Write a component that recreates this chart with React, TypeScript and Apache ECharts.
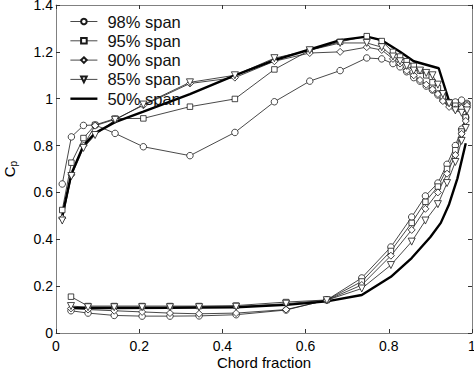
import React, { useEffect, useRef } from "react";
import * as echarts from "echarts";

const FONT = "'Liberation Sans', Arial, Helvetica, sans-serif";

const seriesNames = ["98% span", "95% span", "90% span", "85% span", "50% span"];

// Upper surface stations (marker series)
const upperX = [0.015, 0.037, 0.066, 0.094, 0.142, 0.21, 0.322, 0.43, 0.525, 0.61, 0.683, 0.747, 0.783, 0.81, 0.827, 0.843, 0.86, 0.875, 0.89, 0.905, 0.918, 0.93, 0.945, 0.96, 0.975, 0.988];
const upper98 = [0.636, 0.837, 0.886, 0.888, 0.852, 0.795, 0.757, 0.856, 0.987, 1.075, 1.12, 1.174, 1.17, 1.15, 1.136, 1.115, 1.09, 1.075, 1.054, 1.037, 1.016, 0.994, 0.98, 0.986, 0.994, 0.98];
const upper95 = [0.525, 0.727, 0.832, 0.888, 0.915, 0.916, 0.966, 0.999, 1.125, 1.207, 1.243, 1.267, 1.246, 1.2, 1.18, 1.16, 1.14, 1.12, 1.1, 1.07, 1.045, 1.01, 0.985, 0.97, 0.965, 0.975];
const upper90 = [0.49, 0.675, 0.8, 0.885, 0.912, 0.972, 1.065, 1.09, 1.16, 1.195, 1.2, 1.22, 1.208, 1.17, 1.15, 1.12, 1.1, 1.08, 1.06, 1.04, 1.02, 0.99, 0.965, 0.955, 0.96, 0.97];
const upper85 = [0.48, 0.67, 0.79, 0.845, 0.91, 0.975, 1.07, 1.1, 1.173, 1.207, 1.238, 1.238, 1.22, 1.18, 1.16, 1.14, 1.12, 1.12, 1.11, 1.1, 1.06, 1.02, 0.98, 0.95, 0.94, 0.95];

// Lower surface stations (marker series)
const lowerX = [0.036, 0.077, 0.14, 0.207, 0.274, 0.344, 0.433, 0.553, 0.651, 0.735, 0.805, 0.855, 0.888, 0.918, 0.94, 0.96, 0.975, 0.985];
const lower98 = [0.095, 0.085, 0.075, 0.072, 0.072, 0.073, 0.078, 0.098, 0.141, 0.235, 0.367, 0.495, 0.585, 0.64, 0.72, 0.8, 0.87, 0.92];
const lower95 = [0.155, 0.115, 0.115, 0.115, 0.115, 0.115, 0.117, 0.132, 0.141, 0.22, 0.35, 0.47, 0.56, 0.625, 0.7, 0.78, 0.86, 0.92];
const lower90 = [0.105, 0.1, 0.095, 0.09, 0.085, 0.082, 0.085, 0.1, 0.14, 0.205, 0.33, 0.44, 0.53, 0.6, 0.68, 0.76, 0.85, 0.905];
const lower85 = [0.115, 0.11, 0.11, 0.11, 0.11, 0.11, 0.112, 0.125, 0.14, 0.19, 0.29, 0.39, 0.48, 0.55, 0.64, 0.73, 0.82, 0.875];

// 50% span (thick line, no markers)
const upper50X = [0.015, 0.037, 0.066, 0.094, 0.142, 0.21, 0.322, 0.43, 0.525, 0.61, 0.683, 0.747, 0.783, 0.827, 0.86, 0.92, 0.943, 0.955, 0.99];
const upper50 = [0.5, 0.68, 0.8, 0.853, 0.9, 0.945, 1.02, 1.1, 1.165, 1.21, 1.25, 1.265, 1.25, 1.2, 1.16, 1.13, 1.0, 0.973, 0.96];
const lower50X = [0.036, 0.14, 0.274, 0.433, 0.553, 0.651, 0.735, 0.805, 0.855, 0.9, 0.925, 0.945, 0.965, 0.985];
const lower50 = [0.107, 0.107, 0.108, 0.11, 0.12, 0.135, 0.162, 0.24, 0.32, 0.41, 0.47, 0.55, 0.66, 0.81];

const xTicks = [0, 0.2, 0.4, 0.6, 0.8, 1];
const yTicks = [0, 0.2, 0.4, 0.6, 0.8, 1, 1.2, 1.4];

function surfacePath(ux: number[], uy: number[], lx: number[], ly: number[], breakAtTE: boolean) {
  const pts: any[] = ux.map((x, i) => [x, uy[i]]);
  if (breakAtTE) pts.push([null, null]);
  for (let i = lx.length - 1; i >= 0; i--) pts.push([lx[i], ly[i]]);
  return pts;
}

const LINE = "#1a1a1a";
const AXIS = "#808080";

function markerSeries(name: string, symbol: string, data: any[], rotate = 0, size = 6) {
  return {
    name,
    type: "line",
    data,
    symbol,
    symbolSize: size,
    symbolRotate: rotate,
    showSymbol: true,
    connectNulls: false,
    lineStyle: { color: LINE, width: 0.8 },
    itemStyle: { color: "#ffffff", borderColor: LINE, borderWidth: 0.8 },
    emphasis: { disabled: true },
  };
}

export default function App() {
  const ref = useRef<HTMLDivElement>(null);
  useEffect(() => {
    if (!ref.current) return;
    const chart = echarts.init(ref.current, undefined, { renderer: "svg" });
    const axisCommon = {
      type: "value" as const,
      axisLine: { show: true, onZero: false, lineStyle: { color: AXIS, width: 1 } },
      axisTick: { show: true, inside: true, length: 4, lineStyle: { color: "#333" } },
      splitLine: { show: false },
    };
    const option: any = {
      animation: false,
      backgroundColor: "#ffffff",
      grid: { left: 56, top: 5, right: 2, bottom: 35, containLabel: false, outerBoundsMode: "none" },
      legend: {
        orient: "vertical",
        left: 70,
        top: 13,
        padding: 0,
        itemWidth: 27,
        itemHeight: 7,
        itemGap: 2.3,
        data: [
          seriesNames[0],
          seriesNames[1],
          seriesNames[2],
          seriesNames[3],
          { name: seriesNames[4], icon: "path://M0,0 L27,0 L27,2.4 L0,2.4 Z", itemStyle: { color: "#000" } },
        ],
        lineStyle: { width: 0.8 },
        textStyle: { fontFamily: FONT, fontSize: 16.5, lineHeight: 17, color: "#111", padding: [0, 0, 0, 5] },
      },
      xAxis: [
        {
          ...axisCommon,
          position: "bottom",
          min: xTicks[0],
          max: xTicks[xTicks.length - 1],
          interval: 0.2,
          axisLabel: { color: "#000", fontFamily: FONT, fontSize: 14, margin: 6 },
          name: "Chord fraction",
          nameLocation: "middle",
          nameMoveOverlap: false,
          nameGap: 22,
          nameTextStyle: { color: "#000", fontFamily: FONT, fontSize: 15 },
        },
        {
          ...axisCommon,
          position: "top",
          min: xTicks[0],
          max: xTicks[xTicks.length - 1],
          interval: 0.2,
          axisLabel: { show: false },
        },
      ],
      yAxis: [
        {
          ...axisCommon,
          position: "left",
          min: yTicks[0],
          max: yTicks[yTicks.length - 1],
          interval: 0.2,
          axisLabel: { color: "#000", fontFamily: FONT, fontSize: 14, margin: 3 },
          name: "{c|C}{p|p}",
          nameLocation: "middle",
          nameGap: 37,
          nameTextStyle: {
            rich: {
              c: { fontFamily: FONT, fontSize: 15, color: "#000", lineHeight: 20 },
              p: { fontFamily: FONT, fontSize: 10, color: "#000", padding: [9, 0, 0, 0] },
            },
          },
        },
        {
          ...axisCommon,
          position: "right",
          min: yTicks[0],
          max: yTicks[yTicks.length - 1],
          interval: 0.2,
          axisLabel: { show: false },
        },
      ],
      series: [
        markerSeries(seriesNames[0], "circle", surfacePath(upperX, upper98, lowerX, lower98, false), 0, 6.5),
        markerSeries(seriesNames[1], "rect", surfacePath(upperX, upper95, lowerX, lower95, false), 0, 5.5),
        markerSeries(seriesNames[2], "diamond", surfacePath(upperX, upper90, lowerX, lower90, false), 0, 7),
        markerSeries(seriesNames[3], "triangle", surfacePath(upperX, upper85, lowerX, lower85, false), 180, 7),
        {
          name: seriesNames[4],
          type: "line",
          data: surfacePath(upper50X, upper50, lower50X, lower50, true),
          symbol: "none",
          showSymbol: false,
          connectNulls: false,
          lineStyle: { color: "#000", width: 2.4 },
          itemStyle: { color: "#000" },
          emphasis: { disabled: true },
        },
      ],
    };
    chart.setOption(option);
    return () => chart.dispose();
  }, []);
  return <div ref={ref} style={{ width: 474, height: 368, position: "absolute", left: 0, top: 0 }} />;
}
